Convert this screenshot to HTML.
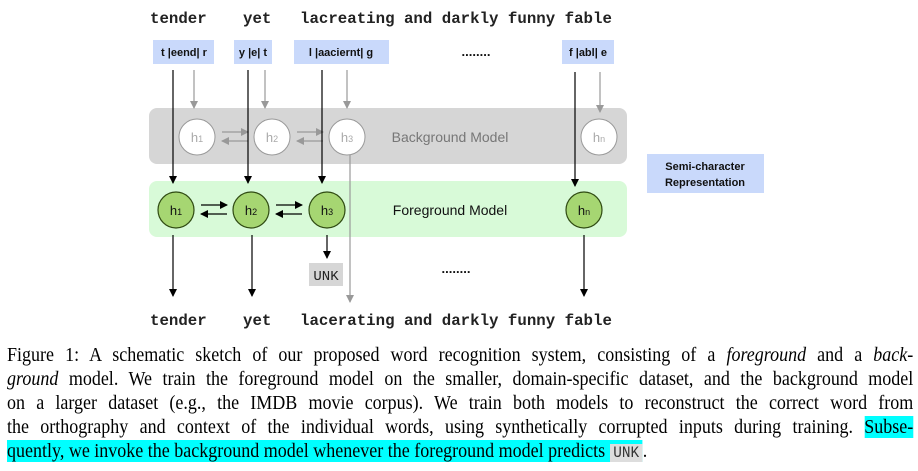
<!DOCTYPE html>
<html><head><meta charset="utf-8"><style>
body{margin:0;background:#fff;width:918px;height:471px;overflow:hidden;position:relative}
svg{position:absolute;left:0;top:0}
.cap{position:absolute;left:7px;width:1007px;font-family:"Liberation Serif",serif;font-size:20px;line-height:22px;text-align:justify;text-align-last:justify;white-space:nowrap;transform:scaleX(0.9);transform-origin:0 0}
.hl{background:#00ffff}
.unk{font-family:"Liberation Mono",monospace;font-size:16px;background:#ddd;color:#333;padding:0 4px}
</style></head><body>
<svg width="918" height="340" xmlns="http://www.w3.org/2000/svg">
<defs>
<marker id="ab" markerWidth="8" markerHeight="8" refX="7" refY="4" orient="auto" markerUnits="userSpaceOnUse"><path d="M0,0 L8,4 L0,8 z" fill="#000"/></marker>
<marker id="ag" markerWidth="8" markerHeight="8" refX="7" refY="4" orient="auto" markerUnits="userSpaceOnUse"><path d="M0,0 L8,4 L0,8 z" fill="#999"/></marker>
</defs>
<g font-family="Liberation Mono,monospace" font-weight="bold" font-size="15.75" fill="#222">
<text x="150" y="23">tender</text><text x="243" y="23">yet</text><text x="300" y="23">lacreating and darkly funny fable</text>
<text x="150" y="325">tender</text><text x="243" y="325">yet</text><text x="300" y="325">lacerating and darkly funny fable</text>
</g>
<g fill="#c9d9fb">
<rect x="153" y="40" width="61" height="24"/><rect x="234" y="40" width="38" height="24"/><rect x="294" y="40" width="95" height="24"/><rect x="562" y="40" width="52" height="24"/>
<rect x="647" y="154" width="117" height="39"/>
</g>
<g font-family="Liberation Sans,sans-serif" font-weight="bold" font-size="11" fill="#111" text-anchor="middle">
<text x="184" y="56">t |eend| r</text><text x="253" y="56">y |e| t</text><text x="341" y="56">l |aaciernt| g</text><text x="588" y="56">f |abl| e</text>
<text x="476" y="56" font-size="13">........</text>
<text x="705" y="170">Semi-character</text><text x="705" y="186">Representation</text>
<text x="456" y="273" font-size="13">........</text>
</g>
<rect x="149" y="108" width="478" height="56" rx="8" fill="#d6d6d6"/>
<rect x="149" y="181" width="478" height="56" rx="8" fill="#d8fad8"/>
<g stroke="#999" stroke-width="1.2" marker-end="url(#ag)">
<line x1="194" y1="70" x2="194" y2="108"/><line x1="265" y1="70" x2="265" y2="108"/><line x1="347" y1="70" x2="347" y2="108"/><line x1="600" y1="72" x2="600" y2="112"/>
<line x1="222" y1="132" x2="248" y2="132"/><line x1="248" y1="141" x2="222" y2="141"/>
<line x1="297" y1="132" x2="323" y2="132"/><line x1="323" y1="141" x2="297" y2="141"/>
<line x1="350" y1="150" x2="350" y2="302"/>
</g>
<g fill="#fff" stroke="#999" stroke-width="1">
<circle cx="197" cy="137" r="18"/><circle cx="272" cy="137" r="18"/><circle cx="347" cy="137" r="18"/><circle cx="599" cy="137" r="18"/>
</g>
<g font-family="Liberation Sans,sans-serif" font-size="13" fill="#aaa" text-anchor="middle">
<text x="197" y="142">h<tspan font-size="9">1</tspan></text><text x="272" y="142">h<tspan font-size="9">2</tspan></text><text x="347" y="142">h<tspan font-size="9">3</tspan></text><text x="599" y="142">h<tspan font-size="9">n</tspan></text>
</g>
<text x="450" y="142" font-family="Liberation Sans,sans-serif" font-size="14" fill="#777" text-anchor="middle">Background Model</text>
<g stroke="#000" stroke-width="1.2" marker-end="url(#ab)">
<line x1="173" y1="70" x2="173" y2="183"/><line x1="248" y1="70" x2="248" y2="183"/><line x1="322" y1="70" x2="322" y2="183"/><line x1="575" y1="72" x2="575" y2="186"/>
<line x1="201" y1="205" x2="227" y2="205"/><line x1="227" y1="214" x2="201" y2="214"/>
<line x1="276" y1="205" x2="302" y2="205"/><line x1="302" y1="214" x2="276" y2="214"/>
<line x1="173" y1="235" x2="173" y2="296"/><line x1="252" y1="235" x2="252" y2="296"/><line x1="327" y1="235" x2="327" y2="258"/><line x1="584" y1="235" x2="584" y2="296"/>
</g>
<g fill="#a6d672" stroke="#2f4a12" stroke-width="1.2">
<circle cx="176" cy="210" r="18"/><circle cx="251" cy="210" r="18"/><circle cx="327" cy="210" r="18"/><circle cx="584" cy="210" r="18"/>
</g>
<g font-family="Liberation Sans,sans-serif" font-size="13" fill="#111" text-anchor="middle">
<text x="176" y="215">h<tspan font-size="9">1</tspan></text><text x="251" y="215">h<tspan font-size="9">2</tspan></text><text x="327" y="215">h<tspan font-size="9">3</tspan></text><text x="584" y="215">h<tspan font-size="9">n</tspan></text>
</g>
<text x="450" y="215" font-family="Liberation Sans,sans-serif" font-size="14" fill="#111" text-anchor="middle">Foreground Model</text>
<rect x="309" y="263" width="34" height="23" fill="#d6d6d6"/>
<text x="326" y="280" font-family="Liberation Mono,monospace" font-size="14" fill="#222" text-anchor="middle">UNK</text>
</svg>
<div class="cap" style="top:344px">Figure 1: A schematic sketch of our proposed word recognition system, consisting of a <i>foreground</i> and a <i>back-</i></div>
<div class="cap" style="top:368px"><i>ground</i> model. We train the foreground model on the smaller, domain-specific dataset, and the background model</div>
<div class="cap" style="top:392px">on a larger dataset (e.g., the IMDB movie corpus). We train both models to reconstruct the correct word from</div>
<div class="cap" style="top:416px">the orthography and context of the individual words, using synthetically corrupted inputs during training. <span class="hl">Subse-</span></div>
<div class="cap" style="top:440px;text-align-last:left;text-align:left"><span class="hl">quently, we invoke the background model whenever the foreground model predicts <span class="unk">UNK</span></span>.</div>
</body></html>
